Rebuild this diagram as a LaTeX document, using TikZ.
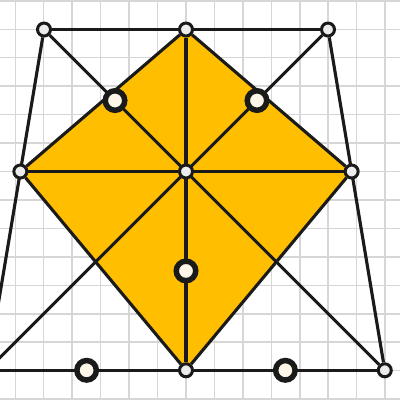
\documentclass[tikz,border=0pt]{standalone}
\usetikzlibrary{backgrounds}
\definecolor{fillorange}{RGB}{255,190,0}
\definecolor{inkc}{RGB}{26,26,26}
\definecolor{gridc}{RGB}{214,214,214}
\definecolor{creamc}{RGB}{253,246,232}
\definecolor{dotfill}{RGB}{236,236,236}
\pgfdeclarelayer{bg}
\pgfdeclarelayer{edges}
\pgfsetlayers{bg,edges,main}
\tikzset{
  gridline/.style={draw=gridc, line width=1.5pt},
  edge/.style={draw=inkc, line width=3.1pt},
  smalldot/.style={circle, draw=inkc, line width=3pt, fill=dotfill, inner sep=0pt, minimum size=13pt},
  bigdot/.style={circle, draw=inkc, line width=5.5pt, fill=creamc, inner sep=0pt, minimum size=19.5pt},
}
\begin{document}
\begin{tikzpicture}[x=28.4pt,y=28.4pt]
\useasboundingbox (-6.55,-8.046) rectangle (7.535,6.04);
\clip (-6.55,-8.046) rectangle (7.535,6.04);
% positions
\coordinate (BL) at (-7,-7);
\node[smalldot] (TL) at (-5,5) {};
\node[smalldot] (TM) at (0,5) {};
\node[smalldot] (TR) at (5,5) {};
\node[smalldot] (L) at (-5.8333,0) {};
\node[smalldot] (C) at (0,0) {};
\node[smalldot] (R) at (5.8333,0) {};
\node[smalldot] (B) at (0,-7) {};
\node[smalldot] (BR) at (7,-7) {};
\node[bigdot] (M1) at (-2.5,2.5) {};
\node[bigdot] (M2) at (2.5,2.5) {};
\node[bigdot] (M3) at (0,-3.5) {};
\node[bigdot] (M4) at (-3.5,-7) {};
\node[bigdot] (M5) at (3.5,-7) {};
\begin{pgfonlayer}{bg}
  \fill[white] (-6.55,-8.046) rectangle (7.535,6.04);
  \draw[gridline] (-7,-9) grid (8,7);
  \fill[fillorange] (TM.center) -- (L.center) -- (B.center) -- (R.center) -- cycle;
\end{pgfonlayer}
\begin{pgfonlayer}{edges}
  \draw[edge] (TL) -- (TR);
  \draw[edge] (TL) -- (BL);
  \draw[edge] (TR) -- (BR);
  \draw[edge] (BL) -- (BR);
  \draw[edge] (TL) -- (BR);
  \draw[edge] (TR) -- (BL);
  \draw[edge] (TM) -- (B);
  \draw[edge] (L) -- (R);
  \draw[edge] (TM) -- (L);
  \draw[edge] (L) -- (B);
  \draw[edge] (B) -- (R);
  \draw[edge] (R) -- (TM);
\end{pgfonlayer}
\end{tikzpicture}
\end{document}
